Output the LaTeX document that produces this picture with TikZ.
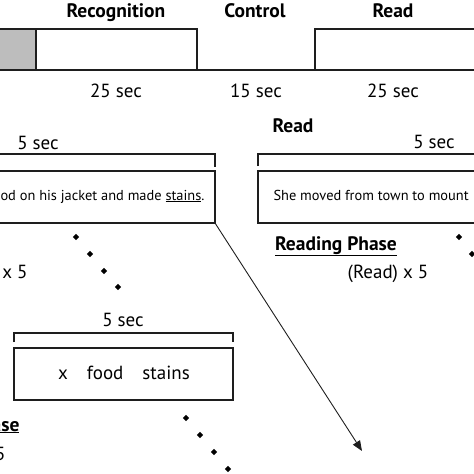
\documentclass[tikz,border=0pt]{standalone}
\usepackage{fontspec}
\setmainfont{PT Sans}
\usetikzlibrary{arrows.meta, calc, shapes.geometric}
\definecolor{lineblack}{HTML}{1E1E1E}
\definecolor{blockgray}{HTML}{BDBDBD}
\tikzset{
  box/.style={draw=lineblack, line width=1.1pt, inner sep=0pt, outer sep=0pt},
  bracket/.style={draw=lineblack, line width=1.1pt},
  flow/.style={-{Triangle[length=3.6mm, width=2.9mm]}, line width=0.9pt, color=lineblack},
  dotmark/.style={diamond, fill=black, inner sep=0pt, minimum size=6.5pt},
  lbl/.style={font=\fontsize{19}{23}\selectfont, anchor=base},
  head/.style={font=\fontsize{19.5}{23}\selectfont\bfseries, anchor=base},
  sent/.style={font=\fontsize{14.4}{18}\selectfont}
}

\begin{document}
\begin{tikzpicture}[x=1pt, y=-1pt]
\useasboundingbox (0,0) rectangle (474,474);
\clip (0,0) rectangle (474,474);

% timeline
\node[box, fill=blockgray, anchor=north west, minimum width=41pt, minimum height=41pt] (cue) at (-5,29) {};
\node[box, anchor=north west, minimum width=161pt, minimum height=41pt] (recog) at (36,29) {};
\node[box, anchor=north west, minimum width=170pt, minimum height=41pt] (readbox) at (315,29) {};
\draw[bracket] (recog.south east) -- (readbox.south west);

\node[head] (recoglbl) at (116,17) {Recognition};
\node[head] (ctrllbl) at (255,17) {Control};
\node[head] (readlbl) at (393,17) {Read};
\node[lbl] (recogsec) at (116,97) {25 sec};
\node[lbl] (ctrlsec) at (256,97) {15 sec};
\node[lbl] (readsec) at (393,97) {25 sec};

% sentence trials
\node[lbl] (secA) at (38,149) {5 sec};
\draw[bracket] (-5,154) -- (215,154) -- (215,167);
\node[box, anchor=south east, minimum width=240pt, minimum height=52pt] (sentA) at (215,223) {};
\node[sent, anchor=base east] (textA) at (208,200) {od on his jacket and made \underline{stains}.};
\node[lbl, anchor=base east] (repA) at (31,278) {) x 5};

\node[head] (readhead) at (293,132) {Read};
\node[lbl] (secB) at (434,148) {5 sec};
\draw[bracket] (258,166) -- (258,154) -- (480,154);
\node[box, anchor=south west, minimum width=230pt, minimum height=52pt] (sentB) at (258,223) {};
\node[sent, anchor=base west] (textB) at (270,200) {She moved from town to mount};
\node[head] (phaseB) at (336,250) {\underline{Reading Phase}};
\node[lbl] (repB) at (388,278) {(Read) x 5};

% probe trial
\node[lbl] (secC) at (123,326) {5 sec};
\draw[bracket] (14,342) -- (14,333) -- (233,333) -- (233,342);
\node[box, anchor=north west, minimum width=219pt, minimum height=52pt] (probe) at (14,348) {};
\node[lbl] (probetext) at (124,379) {x\quad food\quad stains};
\node[head, anchor=base east] (phaseC) at (23,431) {\underline{ase}};
\node[lbl, anchor=base east] (repC) at (9,460) {5};

% continuation dots
\foreach \x/\y [count=\i] in {76/237, 90/254, 104/271, 118/287}
  \node[dotmark] (dotA\i) at (\x,\y) {};
\foreach \x/\y [count=\i] in {459/237, 472/254}
  \node[dotmark] (dotB\i) at (\x,\y) {};
\foreach \x/\y [count=\i] in {186/418, 200/435, 214/452, 228/469}
  \node[dotmark] (dotC\i) at (\x,\y) {};

\coordinate (arrowtip) at (362,451);
\draw[flow] (sentA.south east) -- (arrowtip);

\end{tikzpicture}
\end{document}
